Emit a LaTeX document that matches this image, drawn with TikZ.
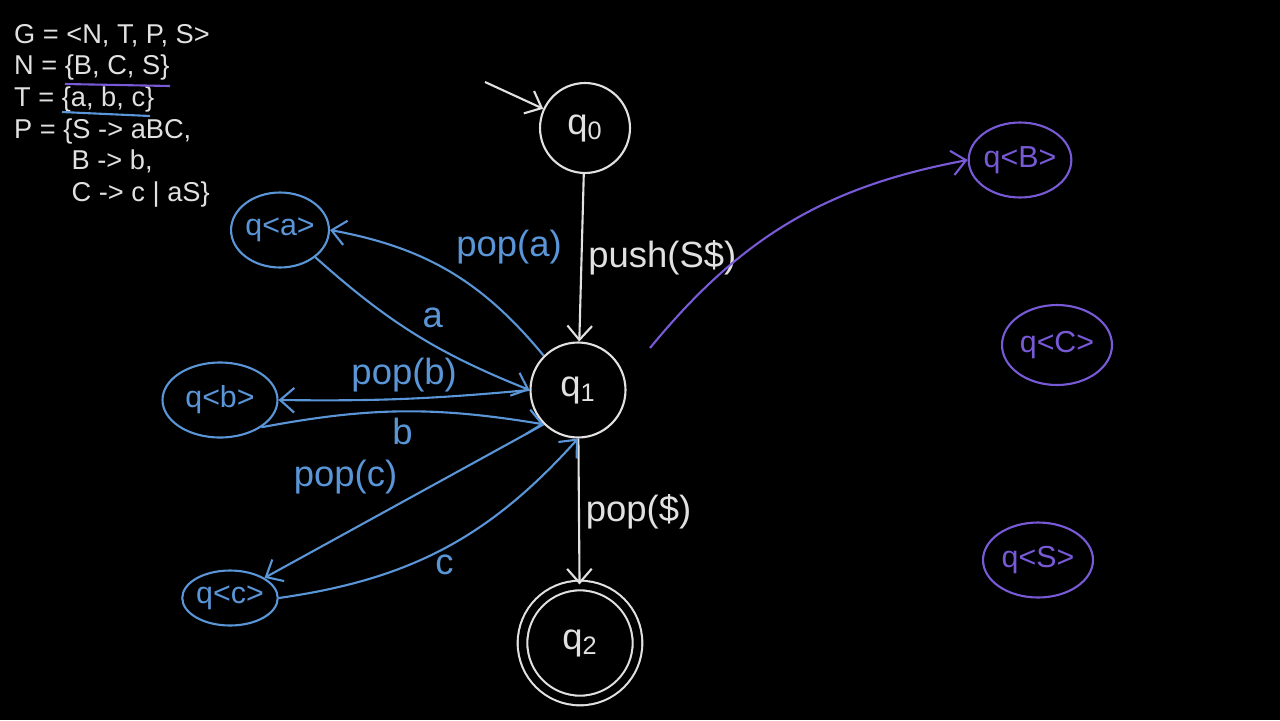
\documentclass[tikz,border=0pt]{standalone}
\usepackage{fontspec}
\setmainfont{Liberation Sans}
\usetikzlibrary{arrows.meta, shapes.geometric}
\definecolor{chalk}{RGB}{225,225,225}
\definecolor{bluec}{RGB}{90,150,215}
\definecolor{purp}{RGB}{120,90,215}
\tikzset{
  st/.style = {draw, circle, line width=1.2pt, minimum size=#1, inner sep=0pt, font=\huge},
  blob/.style = {draw, ellipse, line width=1.2pt, inner sep=0pt, font=\LARGE},
  arr/.style = {-{Straight Barb[length=8pt,width=14pt]}, line width=1.2pt},
  lbl/.style = {font=\huge}
}
\begin{document}
\begin{tikzpicture}[x=0.02cm, y=-0.02cm]
    \fill [black] (0, 0) rectangle (1280, 720);
    % grammar
    \node [chalk, anchor=north west, align=left, font=\fontsize{15.5}{18}\selectfont] (gram) at (8, 18)
        {G = <N, T, P, S>\\ N = \{B, C, S\}\\ T = \{a, b, c\}\\ P = \{S -> aBC,\\ \hspace{1.15cm}B -> b,\\ \hspace{1.15cm}C -> c | aS\}};
    \draw [purp, line width=1.2pt] (65, 84) -- (170, 86);
    \draw [bluec, line width=1.2pt] (62, 112) -- (150, 116);
    % white states
    \node [st=1.8cm, chalk] (q0) at (585, 128) {q\textsubscript{0}};
    \node [st=1.9cm, chalk] (q1) at (578, 390) {q\textsubscript{1}};
    \node [st=2.3cm, chalk, double=black, double distance=0.15cm] (q2) at (580, 643) {q\textsubscript{2}};
    % blue states
    \node [blob, bluec, minimum height=1.5cm, minimum width=1.8cm] (qa) at (280, 230) {q<a>};
    \node [blob, bluec, minimum height=1.5cm, minimum width=2.3cm] (qb) at (220, 400) {q<b>};
    \node [blob, bluec, minimum height=1.1cm, minimum width=1.8cm] (qc) at (230, 598) {q<c>};
    % purple states
    \node [blob, purp, minimum height=1.5cm, minimum width=1.8cm] (qB) at (1020, 160) {q<B>};
    \node [blob, purp, minimum height=1.6cm, minimum width=2.2cm] (qC) at (1057, 345) {q<C>};
    \node [blob, purp, minimum height=1.5cm, minimum width=2.2cm] (qS) at (1038, 560) {q<S>};
    % white edges
    \coordinate (start) at (485, 82);
    \draw [arr, chalk] (start) -- (q0);
    \draw [arr, chalk] (q0) -- node [right, lbl] {push(S\$)} (q1);
    \draw [arr, chalk] (q1) -- node [right, lbl] {pop(\$)} (q2);
    % blue edges
    \draw [arr, bluec] (q1.north west) to [bend right=20] node [above right, lbl] {pop(a)} (qa.east);
    \draw [arr, bluec] (qa.south east) to [bend right=10] node [above right, lbl] {a} (q1.west);
    \draw [arr, bluec] (q1.west) to [bend left=3] node [above, lbl] {pop(b)} (qb.east);
    \draw [arr, bluec] (qb.south east) to [bend left=10] node [below, lbl] {b} (q1.south west);
    \draw [arr, bluec] (q1.south west) to node [above left, lbl] {pop(c)} (qc.north east);
    \draw [arr, bluec] (qc.east) to [bend right=20] node [below, lbl] {c} (q1.south);
    % purple edge
    \coordinate (pstart) at (650, 348);
    \draw [arr, purp] (pstart) to [bend left=20] (qB.west);
\end{tikzpicture}
\end{document}
